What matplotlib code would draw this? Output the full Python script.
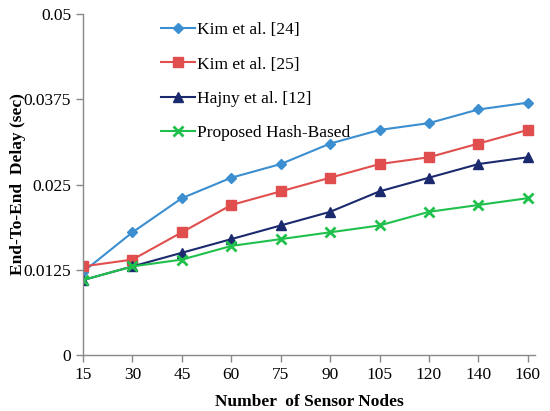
import matplotlib
matplotlib.use("Agg")
import matplotlib.pyplot as plt

categories = ["15", "30", "45", "60", "75", "90", "105", "120", "140", "160"]
kim24 = [0.0122, 0.018, 0.023, 0.026, 0.028, 0.031, 0.033, 0.034, 0.036, 0.037]
kim25 = [0.013, 0.014, 0.018, 0.022, 0.024, 0.026, 0.028, 0.029, 0.031, 0.033]
hajny = [0.011, 0.013, 0.015, 0.017, 0.019, 0.021, 0.024, 0.026, 0.028, 0.029]
proposed = [0.011, 0.013, 0.014, 0.016, 0.017, 0.018, 0.019, 0.021, 0.022, 0.023]
yticks = [0, 0.0125, 0.025, 0.0375, 0.05]
ytick_labels = ["0", "0.0125", "0.025", "0.0375", "0.05"]

plt.rcParams['font.family'] = ['Liberation Serif', 'DejaVu Serif']

fig = plt.figure(figsize=(5.5, 4.11), dpi=100)
ax = fig.add_axes([0.151, 0.136, 0.822, 0.830])

x = list(range(len(categories)))
ax.plot(x, kim24, color='#3B8ED0', marker='D', markersize=5.5, lw=1.5, label='Kim et al. [24]')
ax.plot(x, kim25, color='#E04E4E', marker='s', markersize=6.5, lw=1.5, label='Kim et al. [25]')
ax.plot(x, hajny, color='#1B2A6E', marker='^', markersize=7, lw=1.5, label='Hajny et al. [12]')
ax.plot(x, proposed, color='#20C04C', marker='x', markersize=7, mew=2, lw=1.5, label='Proposed Hash-Based')

ax.set_xlim(0, len(categories) - 1 + 0.15)
ax.set_ylim(0, 0.05)
ax.set_xticks(x)
ax.set_xticklabels(categories, fontsize=12.5)
ax.set_yticks(yticks)
ax.set_yticklabels(ytick_labels, fontsize=12.5)

for s in ['top', 'right']:
    ax.spines[s].set_visible(False)
for s in ['left', 'bottom']:
    ax.spines[s].set_color('#888888')
    ax.spines[s].set_linewidth(1.0)
ax.tick_params(axis='both', direction='out', length=5, color='#888888', width=1.0)

ax.set_xlabel('Number  of Sensor Nodes', fontsize=12.5, fontweight='bold', labelpad=8)
ax.set_ylabel('End-To-End  Delay (sec)', fontsize=12.5, fontweight='bold')
ax.yaxis.set_label_coords(-0.126, 0.5)

ax.legend(loc='upper left', bbox_to_anchor=(0.145, 1.012), frameon=False, fontsize=12.5,
          handlelength=2.0, handletextpad=0.1, labelspacing=1.05, borderaxespad=0.3)

fig.savefig('out.png', dpi=100)
